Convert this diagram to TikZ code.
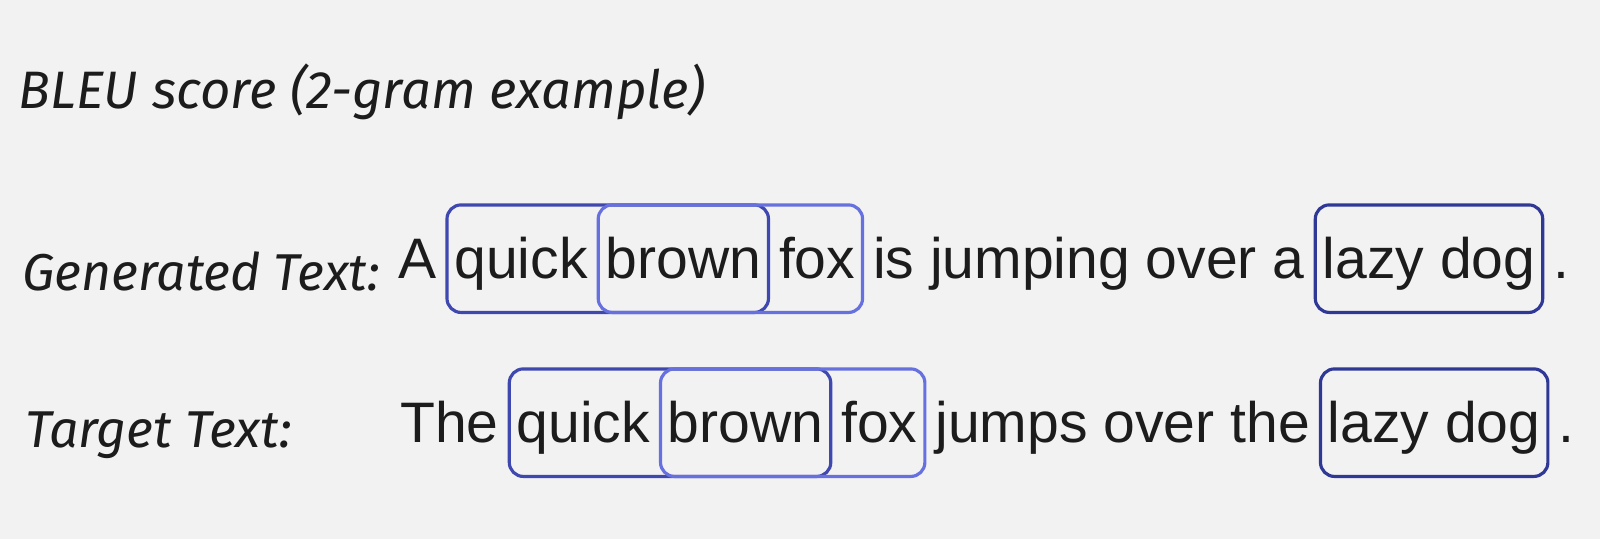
\documentclass[tikz,border=0pt]{standalone}
\usepackage{fontspec}
\setmainfont{Liberation Sans}
\newfontfamily\handfont{Fira Sans}
\usetikzlibrary{positioning,fit}
\definecolor{bgGray}{RGB}{242,242,242}
\definecolor{inkBlack}{RGB}{28,28,28}
\definecolor{gramDark}{RGB}{63,72,175}
\definecolor{gramLight}{RGB}{102,112,222}
\definecolor{gramNavy}{RGB}{48,56,150}
\tikzset{
  word/.style={font=\fontsize{32.5}{38}\selectfont, text=inkBlack, inner sep=0pt, text height=38pt, text depth=16pt},
  hand/.style={font=\handfont\itshape\fontsize{29.5}{34}\selectfont, text=inkBlack, anchor=base west, inner sep=0pt},
  gram/.style={draw=#1, line width=1.8pt, rounded corners=8pt, inner xsep=4pt, inner ysep=3.4pt},
}
\begin{document}
\begin{tikzpicture}[x=0.02cm,y=-0.02cm]
\fill [bgGray] (0,0) rectangle (1600,539);
\useasboundingbox (0,0) rectangle (1600,539);
% labels
\node [hand, font=\handfont\itshape\fontsize{30}{34}\selectfont] (title) at (18,108) {BLEU score (2-gram example)};
\node [hand] (genlabel) at (22,290) {Generated Text:};
\node [hand] (tarlabel) at (25,447) {Target Text:};
% generated sentence
\node [word, anchor=base west] (gA) at (398,278) {A};
\node [word, right=9.8pt of gA] (gquick) {quick};
\node [word, right=9.8pt of gquick] (gbrown) {brown};
\node [word, right=9.8pt of gbrown] (gfox) {fox};
\node [word, right=9.8pt of gfox] (grest) {is jumping over a};
\node [word, right=9.8pt of grest] (glazy) {lazy dog};
\node [word, right=9.8pt of glazy] (gdot) {.};
% target sentence
\node [word, anchor=base west] (tThe) at (400,442) {The};
\node [word, right=9.8pt of tThe] (tquick) {quick};
\node [word, right=9.8pt of tquick] (tbrown) {brown};
\node [word, right=9.8pt of tbrown] (tfox) {fox};
\node [word, right=9.8pt of tfox] (trest) {jumps over the};
\node [word, right=9.8pt of trest] (tlazy) {lazy dog};
\node [word, right=9.8pt of tlazy] (tdot) {.};
% 2-gram boxes
\node [gram=gramDark, fit=(gquick)(gbrown)] (gqb) {};
\node [gram=gramLight, fit=(gbrown)(gfox)] (gbf) {};
\node [gram=gramNavy, fit=(glazy)] (gld) {};
\node [gram=gramDark, fit=(tquick)(tbrown)] (tqb) {};
\node [gram=gramLight, fit=(tbrown)(tfox)] (tbf) {};
\node [gram=gramNavy, fit=(tlazy)] (tld) {};
\end{tikzpicture}
\end{document}
